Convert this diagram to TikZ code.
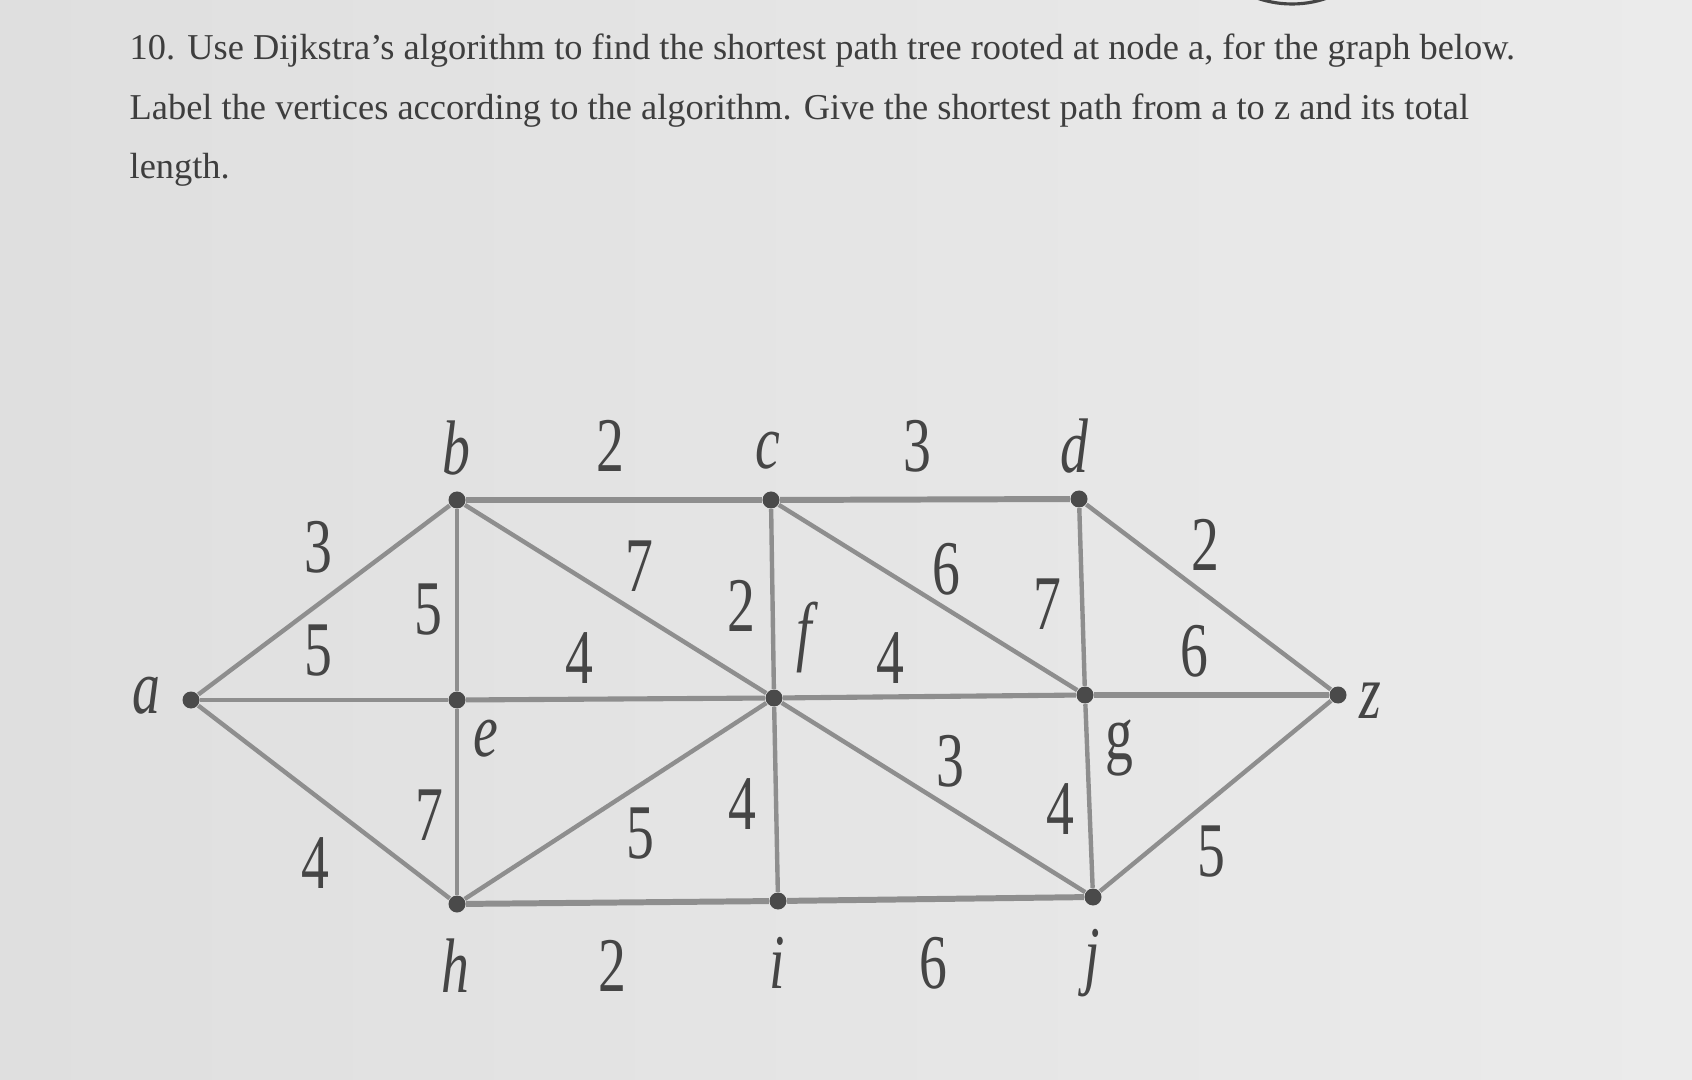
\documentclass[tikz,border=0pt]{standalone}
\usepackage{fontspec}
\setmainfont{Liberation Serif}
\newfontfamily\graphfont[FakeStretch=0.72]{Liberation Serif}
\definecolor{paperleft}{HTML}{DFDFDF}
\definecolor{paperright}{HTML}{EBEBEB}
\definecolor{ink}{HTML}{454545}
\definecolor{edgegray}{HTML}{8E8E8E}
\definecolor{dotgray}{HTML}{4A4A4A}

\begin{document}
\begin{tikzpicture}[x=0.01cm, y=-0.01cm,
  vert/.style={circle, fill=dotgray, inner sep=0, minimum size=17*0.01cm},
  edge/.style={edgegray, line width=1.25pt},
  wt/.style={text=ink, font=\graphfont\fontsize{22}{22}\selectfont, inner sep=0},
  lab/.style={text=ink, font=\graphfont\itshape\fontsize{22}{22}\selectfont, inner sep=0},
  line/.style={anchor=base west, text=ink!90!black, inner sep=0, font=\fontsize{10.35}{12}\selectfont}]
\useasboundingbox (0,0) rectangle (1692,1080);
\shade[left color=paperleft, right color=paperright] (0,0) rectangle (1692,1080);
% bit of a circle cut off at the top
\draw[ink, line width=0.9pt] (1292,-102) circle[radius=106];
% question
\node[line] (title1) at (129,60) {10. Use Dijkstra's algorithm to find the shortest path tree rooted at node a, for the graph below.};
\node[line] (title2) at (129,120) {Label the vertices according to the algorithm. Give the shortest path from a to z and its total};
\node[line] (title3) at (129,179) {length.};
% vertices
\foreach \n/\x/\y in {a/191/700, b/457/500, c/771/500, d/1079/499, e/457/700, f/774/698,
  g/1085/695, z/1338/695, h/457/904, i/778/901, j/1093/897}
  \node[vert] (\n) at (\x,\y) {};
% edges
\foreach \u/\v in {a/b, a/e, a/h, b/e, b/f, c/f, c/g, d/g, d/z, e/h, f/h, f/i, f/j, g/j, j/z}
  \draw[edge] (\u) -- (\v);
\foreach \u/\v in {b/c, c/d, h/i, i/j}
  \draw[edge, line width=1.7pt] (\u) -- (\v);
\foreach \u/\v in {e/f, f/g, g/z}
  \draw[edge, line width=1.45pt] (\u) -- (\v);
% vertex names
\node[lab] (lab-a) at (146,696) {a};
\node[lab] (lab-b) at (456,448) {b};
\node[lab] (lab-c) at (768,451) {c};
\node[lab] (lab-d) at (1074,446) {d};
\node[lab] (lab-e) at (486,739) {e};
\node[lab] (lab-f) at (804,637) {f};
\node[lab, font=\graphfont\fontsize{22}{22}\selectfont] (lab-g) at (1119,748) {g};
\node[lab] (lab-z) at (1370,701) {z};
\node[lab] (lab-h) at (455,966) {h};
\node[lab] (lab-i) at (777,963) {i};
\node[lab] (lab-j) at (1092,963) {j};
% weights
\foreach \nm/\x/\y/\w in {ab/318/547/3, ae/318/651/5, ah/315/863/4, bc/610/446/2, cd/917/446/3,
  be/428/610/5, bf/639/566/7, cf/741/606/2, ef/579/658/4, fg/890/658/4, cg/946/569/6,
  dg/1047/604/7, dz/1205/545/2, gz/1194/651/6, fj/950/761/3, eh/429/815/7, fh/640/834/5,
  fi/742/804/4, gj/1060/809/4, jz/1211/852/5, hi/612/966/2, ij/933/963/6}
  \node[wt] (w-\nm) at (\x,\y) {\w};
\end{tikzpicture}
\end{document}
